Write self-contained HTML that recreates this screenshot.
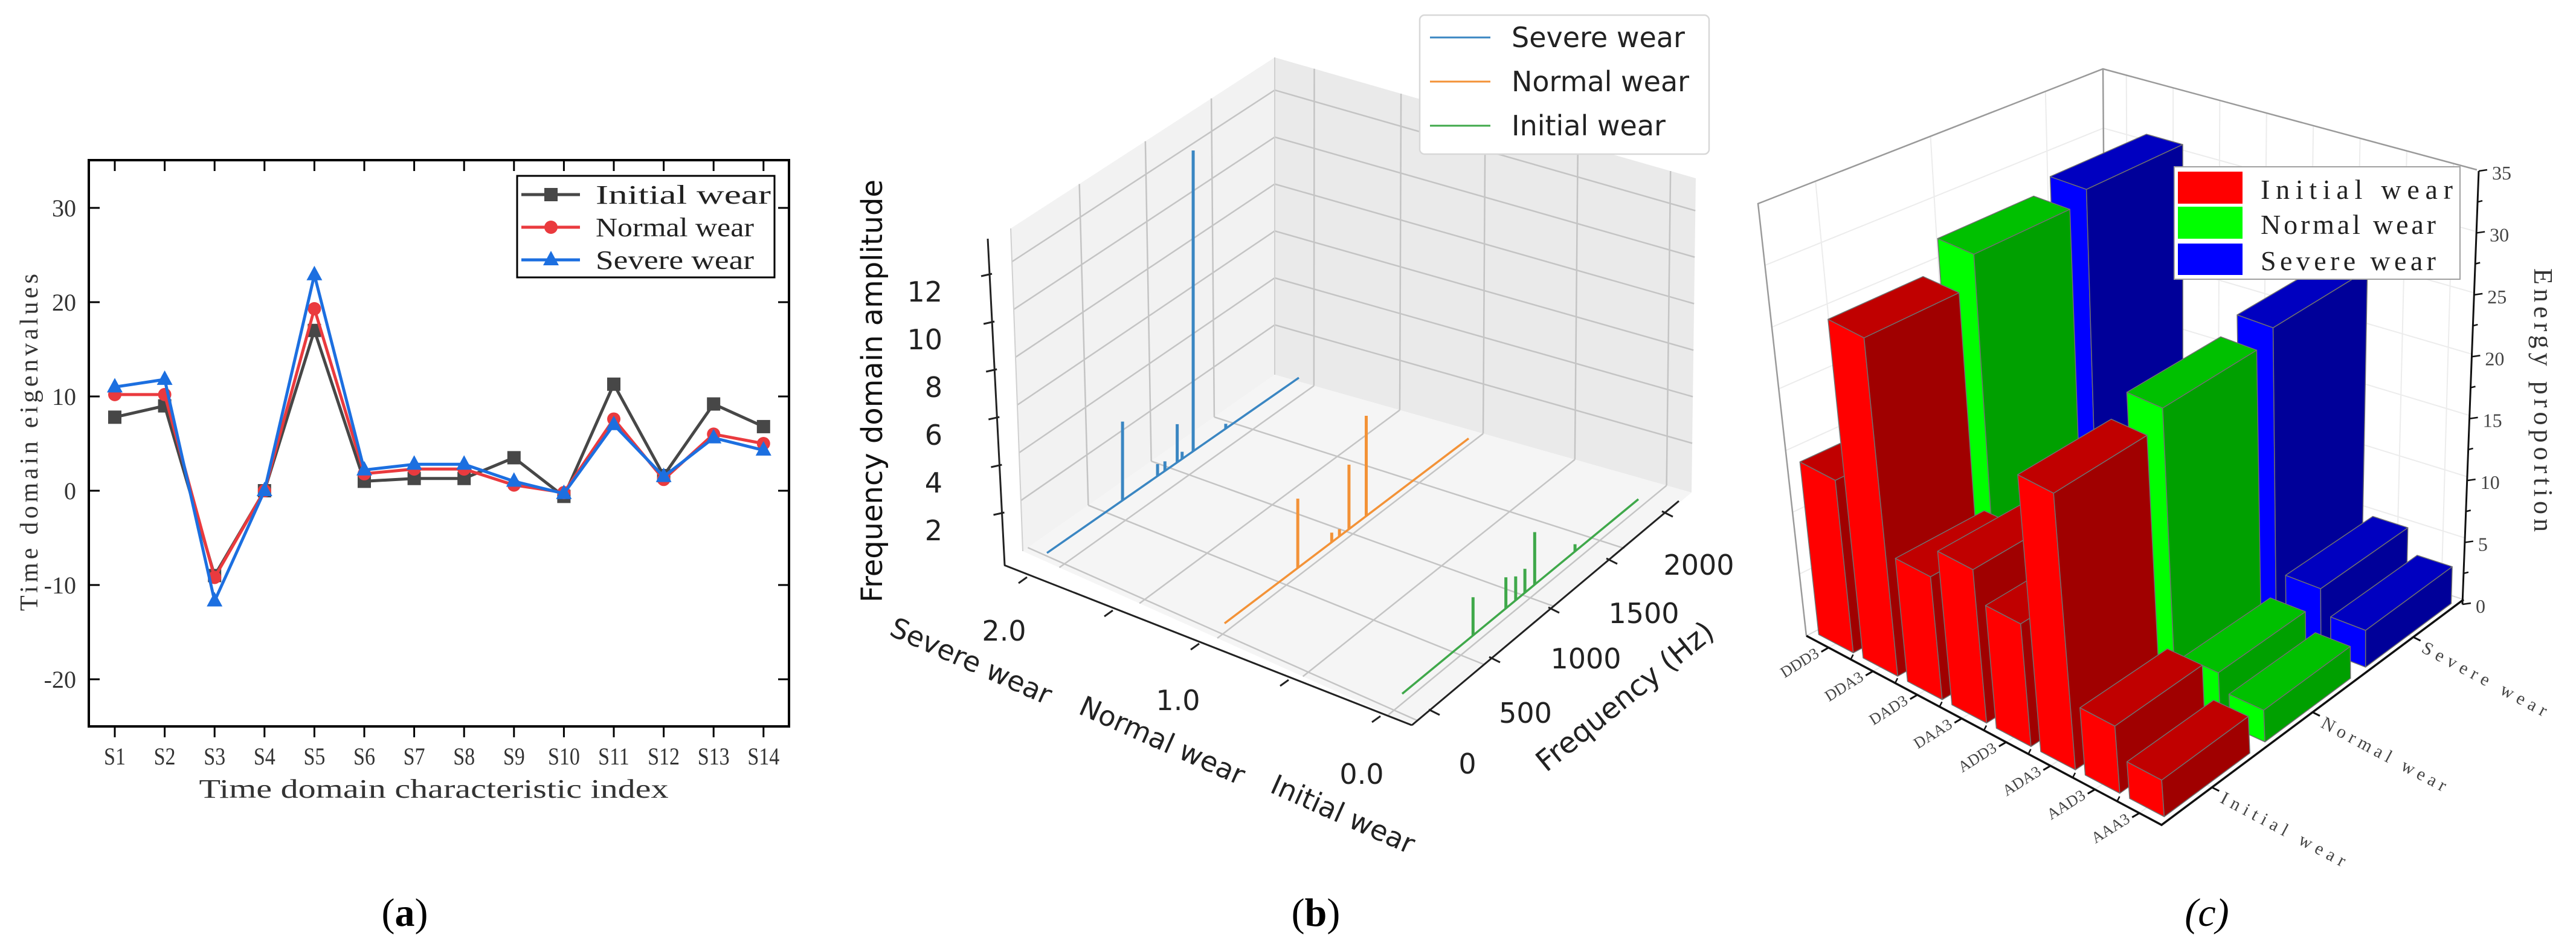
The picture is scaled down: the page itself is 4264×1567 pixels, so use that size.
<!DOCTYPE html>
<html><head><meta charset="utf-8">
<style>
html,body{margin:0;padding:0;background:#fff;}
svg{display:block;}
.serif{font-family:"Liberation Serif","DejaVu Serif",serif;}
.sans{font-family:"DejaVu Sans","Liberation Sans",sans-serif;}
</style></head>
<body>
<svg id="fig" xmlns="http://www.w3.org/2000/svg" width="4264" height="1567" viewBox="0 0 4264 1567">
<rect width="4264" height="1567" fill="#fff"/>
<g id="pa"></g>
<g id="pb"></g>
<g id="pc"></g>
<text x="670" y="1532" text-anchor="middle" class="serif" font-size="66">(<tspan font-weight="bold">a</tspan>)</text>
<text x="2178" y="1532" text-anchor="middle" class="serif" font-size="66">(<tspan font-weight="bold">b</tspan>)</text>
<text x="3653" y="1532" text-anchor="middle" class="serif" font-size="66" font-style="italic">(c)</text>
</svg>
<script>
// ---------- Panel (a) data ----------
const aCategories = ["S1","S2","S3","S4","S5","S6","S7","S8","S9","S10","S11","S12","S13","S14"];
const aInitial = [7.8, 9.0, -9.0, 0.0, 17.0, 1.0, 1.3, 1.3, 3.5, -0.6, 11.3, 1.6, 9.2, 6.8];
const aNormal  = [10.2, 10.2, -9.2, 0.0, 19.3, 1.8, 2.3, 2.3, 0.6, -0.2, 7.6, 1.2, 6.0, 5.0];
const aSevere  = [11.0, 11.8, -11.7, 0.0, 22.9, 2.2, 2.8, 2.8, 1.0, -0.3, 7.0, 1.5, 5.6, 4.3];
const aYTicks = [-20, -10, 0, 10, 20, 30];
// ---------- Panel (b) data ----------
const bCategories = ["Initial wear","Normal wear","Severe wear"];
const bSevereFreq = [615, 900, 960, 1060, 1100, 1190, 1455];
const bSevereAmp  = [3.3, 0.5, 0.4, 1.6, 0.3, 12.6, 0.2];
const bNormalFreq = [615, 900, 965, 1045, 1190];
const bNormalAmp  = [2.9, 0.4, 0.3, 2.7, 4.2];
const bInitialFreq = [615, 900, 985, 1065, 1150, 1500];
const bInitialAmp  = [1.6, 1.3, 1.0, 1.0, 2.2, 0.3];
const bZTicks = [2, 4, 6, 8, 10, 12];
const bFreqTicks = [0, 500, 1000, 1500, 2000];
const bCatTicks = ["2.0","1.0","0.0"];
// ---------- Panel (c) data ----------
const cCategories = ["DDD3","DDA3","DAD3","DAA3","ADD3","ADA3","AAD3","AAA3"];
const cSeries = ["Initial wear","Normal wear","Severe wear"];
const cInitial = [14, 27.5, 10, 12.5, 10, 22.6, 5.5, 3];
const cNormal  = [8, 30, 6, 7, 6, 24, 4, 2.6];
const cSevere  = [8, 31, 6, 7, 6, 25, 5, 3];
const cZTicks = [0, 5, 10, 15, 20, 25, 30, 35];

const NS = "http://www.w3.org/2000/svg";
function mk(parent, tag, attrs, text){
  const e = document.createElementNS(NS, tag);
  for (const k in attrs) e.setAttribute(k, attrs[k]);
  if (text !== undefined) e.textContent = text;
  parent.appendChild(e);
  return e;
}
function pts(arr){ return arr.map(p=>p[0].toFixed(1)+","+p[1].toFixed(1)).join(" "); }

// ================= Panel A =================
(function(){
  const g = document.getElementById('pa');
  const X0=147, X1=1306, Y0=265, Y1=1202;
  const xs = i => 190 + i*82.6;
  const ys = v => 812 - v*15.6;
  let el = mk(g,'rect',{x:X0,y:Y0,width:X1-X0,height:Y1-Y0,fill:'none',stroke:'#000','stroke-width':4});
  
  
  aYTicks.forEach(v=>{
    const y = ys(v);
    let t = mk(g,'line',{x1:X0,y1:y,x2:X0+18,y2:y,stroke:'#000','stroke-width':3});
    
    
    let t2 = mk(g,'line',{x1:X1,y1:y,x2:X1-18,y2:y,stroke:'#000','stroke-width':3});
    
    
    let l = mk(g,'text',{x:126,y:y+14,'text-anchor':'end','font-size':40,fill:'#333',class:'serif'},String(v));
    
    
  });
  aCategories.forEach((c,i)=>{
    const x = xs(i);
    let t = mk(g,'line',{x1:x,y1:Y1,x2:x,y2:Y1+18,stroke:'#000','stroke-width':3});
    
    
    let t2 = mk(g,'line',{x1:x,y1:Y0,x2:x,y2:Y0+18,stroke:'#000','stroke-width':3});
    
    
    let l = mk(g,'text',{x:x,y:1265,'text-anchor':'middle','font-size':40,fill:'#333',class:'serif',transform:`translate(${x},0) scale(0.85,1) translate(${-x},0)`},c);
    
    
  });
  let xt = mk(g,'text',{x:718,y:1320,'text-anchor':'middle','font-size':44,fill:'#333',class:'serif',textLength:777,lengthAdjust:'spacingAndGlyphs'},'Time domain characteristic index');
  
  
  let yt = mk(g,'text',{x:0,y:0,'text-anchor':'middle','font-size':42,fill:'#333',class:'serif',textLength:558,lengthAdjust:'spacing',transform:'translate(62,732) rotate(-90)'},'Time domain eigenvalues');
  
  

  const series = [
    {name:'initial',vals:aInitial,color:'#474747',marker:'square'},
    {name:'normal',vals:aNormal,color:'#ea3a3e',marker:'circle'},
    {name:'severe',vals:aSevere,color:'#1c6fe0',marker:'triangle'}
  ];
  function marker(parent,type,x,y,color){
    let m;
    if(type==='square') m = mk(parent,'rect',{x:x-11,y:y-11,width:22,height:22,fill:color});
    else if(type==='circle') m = mk(parent,'circle',{cx:x,cy:y,r:11,fill:color});
    else m = mk(parent,'polygon',{points:pts([[x,y-15],[x+13,y+9],[x-13,y+9]]),fill:color});
    return m;
  }
  series.forEach(s=>{
    const sg = mk(g,'g',{});
    
    
    const p = s.vals.map((v,i)=>[xs(i),ys(v)]);
    let pl = mk(sg,'polyline',{points:pts(p),fill:'none',stroke:s.color,'stroke-width':5,'stroke-linejoin':'round'});
    
    
    p.forEach(q=>{
      const m = marker(sg,s.marker,q[0],q[1],s.color);
      
      
    });
  });
  // legend
  const lg = mk(g,'g',{});
  
  
  mk(lg,'rect',{x:856,y:291,width:426,height:168,fill:'#fff',stroke:'#000','stroke-width':3});
  const ln = ['Initial wear','Normal wear','Severe wear'];
  [322,376,430].forEach((y,i)=>{
    const e = mk(lg,'g',{});
    
    
    mk(e,'line',{x1:863,y1:y,x2:960,y2:y,stroke:series[i].color,'stroke-width':5});
    marker(e,series[i].marker,912,y,series[i].color);
    mk(e,'text',{x:986,y:y+15,'font-size':44,fill:'#222',class:'serif',textLength:i===0?290:262,lengthAdjust:'spacingAndGlyphs'},ln[i]);
  });
})();

// ================= Panel B =================
(function(){
  const g = document.getElementById('pb');
  // static box geometry (pixel layout)
  const L=[1693,912], B=[2110,620], R=[2800,815], F=[2337,1200];
  const Lt=[1673,378], Bt=[2110,95], Rt=[2807,295];
  const lerp=(a,b,t)=>[a[0]+(b[0]-a[0])*t, a[1]+(b[1]-a[1])*t];
  const floorP=(s,t)=>lerp(lerp(L,B,t), lerp(F,R,t), s);
  const box = mk(g,'g',{});
  
  
  mk(box,'polygon',{points:pts([L,B,Bt,Lt]),fill:'#f2f2f2'});
  mk(box,'polygon',{points:pts([B,R,Rt,Bt]),fill:'#eaeaea'});
  mk(box,'polygon',{points:pts([L,B,R,F]),fill:'#f5f5f5'});
  const gs = {stroke:'#c4c4c4','stroke-width':2.5,fill:'none'};
  const hz = z => 0.009 + z*0.074;
  bZTicks.forEach(z=>{
    const h=hz(z);
    mk(box,'polyline',Object.assign({points:pts([lerp(L,Lt,h),lerp(B,Bt,h),lerp(R,Rt,h)])},gs));
  });
  // wall vertical grids (freq ticks on left wall, category ticks on right wall)
  const fFr=[0.26,0.51,0.76];
  fFr.forEach(t=>{ mk(box,'line',Object.assign({x1:lerp(L,B,t)[0],y1:lerp(L,B,t)[1],x2:lerp(Lt,Bt,t)[0],y2:lerp(Lt,Bt,t)[1]},gs)); });
  const cFr=[0.094,0.30,0.50,0.72,0.94];
  cFr.forEach(s=>{ mk(box,'line',Object.assign({x1:lerp(B,R,s)[0],y1:lerp(B,R,s)[1],x2:lerp(Bt,Rt,s)[0],y2:lerp(Bt,Rt,s)[1]},gs)); });
  // floor grid
  cFr.forEach(s=>{ const a=floorP(s,0), b=floorP(s,1); mk(box,'line',Object.assign({x1:a[0],y1:a[1],x2:b[0],y2:b[1]},gs)); });
  [0.02,0.26,0.51,0.76].forEach(t=>{ const a=floorP(0,t), b=floorP(1,t); mk(box,'line',Object.assign({x1:a[0],y1:a[1],x2:b[0],y2:b[1]},gs)); });
  // back edges
  mk(box,'polyline',{points:pts([Lt,L]),stroke:'#d0d0d0','stroke-width':2,fill:'none'});
  mk(box,'polyline',{points:pts([Bt,B]),stroke:'#d0d0d0','stroke-width':2,fill:'none'});

  // projection for data
  const S0=[2321,1148], E0=[2712,826], S2=[1733,915], E2=[2150,625];
  const FMAX=2050, ZPX=39.5;
  function proj(c,f,a){
    const st=lerp(S0,S2,c/2), en=lerp(E0,E2,c/2);
    const p=lerp(st,en,f/FMAX);
    return [p[0], p[1]-a*ZPX];
  }
  const data=[
    {c:2,freq:bSevereFreq,amp:bSevereAmp,color:'#3a86c2',name:'severe'},
    {c:1,freq:bNormalFreq,amp:bNormalAmp,color:'#f39237',name:'normal'},
    {c:0,freq:bInitialFreq,amp:bInitialAmp,color:'#3fa84a',name:'initial'}
  ];
  data.forEach(d=>{
    const sg=mk(g,'g',{});
    
    
    const a=proj(d.c,0,0), b=proj(d.c,FMAX,0);
    let bl=mk(sg,'line',{x1:a[0],y1:a[1],x2:b[0],y2:b[1],stroke:d.color,'stroke-width':3.5});
    
    
    d.freq.forEach((f,i)=>{
      const p0=proj(d.c,f,0), p1=proj(d.c,f,d.amp[i]);
      let sp=mk(sg,'line',{x1:p0[0],y1:p0[1],x2:p1[0],y2:p1[1],stroke:d.color,'stroke-width':5});
      
      
    });
  });

  // z axis
  const za=mk(g,'g',{});
  
  
  mk(za,'line',{x1:1635,y1:395,x2:1663,y2:935,stroke:'#222','stroke-width':3});
  bZTicks.forEach(z=>{
    const y=927-z*ZPX; const x=1635+(y-395)*28/540;
    mk(za,'line',{x1:x-14,y1:y+4,x2:x+4,y2:y,stroke:'#222','stroke-width':3});
    mk(za,'text',{x:1560,y:y+46,'text-anchor':'end','font-size':46,class:'sans',fill:'#222'},String(z)).setAttribute('transform',`translate(0,0)`);
  });
  let zt=mk(g,'text',{x:0,y:0,'text-anchor':'middle','font-size':48,class:'sans',fill:'#111',textLength:700,lengthAdjust:'spacingAndGlyphs',transform:'translate(1460,647) rotate(-90)'},'Frequency domain amplitude');
  
  

  // category axis
  const ca=mk(g,'g',{});
  
  
  mk(ca,'line',{x1:1662,y1:935,x2:2337,y2:1200,stroke:'#222','stroke-width':3});
  [[1700,955],[1842,1010],[1985,1065],[2133,1125],[2285,1185]].forEach(p=>mk(ca,'line',{x1:p[0],y1:p[1],x2:p[0]-14,y2:p[1]+10,stroke:'#222','stroke-width':3}));
  [[1662,1060],[1950,1175],[2254,1297]].forEach((p,i)=>mk(ca,'text',{x:p[0],y:p[1],'text-anchor':'middle','font-size':46,class:'sans',fill:'#222'},bCatTicks[i]));
  [['Severe wear',1470,1050],['Normal wear',1783,1180],['Initial wear',2100,1310]].forEach(q=>{
    const t=mk(ca,'text',{x:0,y:0,'font-size':46,class:'sans',fill:'#222',transform:`translate(${q[1]},${q[2]}) rotate(24)`},q[0]);
    
    
  });
  // frequency axis
  const fa=mk(g,'g',{});
  
  
  mk(fa,'line',{x1:2337,y1:1200,x2:2779,y2:829,stroke:'#222','stroke-width':3});
  [[2369,1177],[2469,1090],[2567,1008],[2663,927],[2755,849]].forEach((p,i)=>{
    mk(fa,'line',{x1:p[0]-4,y1:p[1]-3,x2:p[0]+14,y2:p[1]+6,stroke:'#222','stroke-width':3});
  });
  [[2429,1280],[2525,1196],[2625,1106],[2721,1031],[2812,951]].forEach((p,i)=>mk(fa,'text',{x:p[0],y:p[1],'text-anchor':'middle','font-size':46,class:'sans',fill:'#222'},String(bFreqTicks[i])));
  let ft=mk(g,'text',{x:0,y:0,'text-anchor':'middle','font-size':48,class:'sans',fill:'#222',transform:'translate(2700,1165) rotate(-39)'},'Frequency (Hz)');
  
  

  // legend
  const lg=mk(g,'g',{});
  
  
  mk(lg,'rect',{x:2350,y:25,width:479,height:230,rx:8,fill:'#fff',stroke:'#d8d8d8','stroke-width':2.5});
  const lc=['#3a86c2','#f39237','#3fa84a'], lt=['Severe wear','Normal wear','Initial wear'];
  [62,135,208].forEach((y,i)=>{
    const e=mk(lg,'g',{});
    
    
    mk(e,'line',{x1:2367,y1:y,x2:2467,y2:y,stroke:lc[i],'stroke-width':3});
    mk(e,'text',{x:2502,y:y+16,'font-size':46,class:'sans',fill:'#222'},lt[i]);
  });
})();

// ================= Panel C =================
(function(){
  const g=document.getElementById('pc');
  const L=[2990,1052], F=[3578,1365], B=[3486,800], R=[4078,992];
  const Lt=[2910,337], Ft=[3528,658], Bt=[3481,114], Rt=[4100,281];
  const ZMAX=35;
  const lerp=(a,b,t)=>[a[0]+(b[0]-a[0])*t, a[1]+(b[1]-a[1])*t];
  function P(u,v,z){
    const fl=lerp(lerp(L,F,u), lerp(B,R,u), v);
    const tp=lerp(lerp(Lt,Ft,u), lerp(Bt,Rt,u), v);
    return lerp(fl,tp,z/ZMAX);
  }
  const box=mk(g,'g',{});
  
  
  const gl={stroke:'#ececec','stroke-width':2,fill:'none'};
  cZTicks.slice(1,-1).forEach(z=>{
    mk(box,'polyline',Object.assign({points:pts([P(0,0,z),P(0,1,z),P(1,1,z)])},gl));
  });
  cCategories.forEach((c,i)=>{ const u=(i+0.5)/8; mk(box,'polyline',Object.assign({points:pts([P(u,0,0),P(u,1,0),P(u,1,ZMAX)])},gl)); });
  cSeries.forEach((s,j)=>{ const v=(j+0.5)/3; mk(box,'polyline',Object.assign({points:pts([P(1,v,0),P(0,v,0),P(0,v,ZMAX)])},gl)); });
  const be={stroke:'#9a9a9a','stroke-width':2.5,fill:'none'};
  mk(box,'polyline',Object.assign({points:pts([L,Lt,Bt,Rt])},be));
  mk(box,'polyline',Object.assign({points:pts([Bt,B])},be));
  mk(box,'polyline',Object.assign({points:pts([L,B,R])},{stroke:'#d8d8d8','stroke-width':2,fill:'none'}));

  const series=[
    {vals:cInitial,bright:'#ff0000',dark:'#a00000',top:'#c00000',name:'initial'},
    {vals:cNormal,bright:'#00ff00',dark:'#00a000',top:'#00c000',name:'normal'},
    {vals:cSevere,bright:'#0000ff',dark:'#000099',top:'#0000c0',name:'severe'}
  ];
  const hu=0.39/8, hv=0.425/3;
  for(let j=2;j>=0;j--){
    const s=series[j];
    s.vals.forEach((val,i)=>{
      const uc=(i+0.5)/8, vc=(j+0.5)/3;
      const u0=uc-hu,u1=uc+hu,v0=vc-hv,v1=vc+hv;
      const bg=mk(g,'g',{stroke:'#707070','stroke-width':1.5,'stroke-linejoin':'round'});
      
      
      mk(bg,'polygon',{points:pts([P(u0,v0,0),P(u1,v0,0),P(u1,v0,val),P(u0,v0,val)]),fill:s.bright});
      mk(bg,'polygon',{points:pts([P(u1,v0,0),P(u1,v1,0),P(u1,v1,val),P(u1,v0,val)]),fill:s.dark});
      mk(bg,'polygon',{points:pts([P(u0,v0,val),P(u1,v0,val),P(u1,v1,val),P(u0,v1,val)]),fill:s.top});
    });
  }
  // front axes
  const ax=mk(g,'g',{});
  
  
  mk(ax,'polyline',{points:pts([L,F,R]),stroke:'#111','stroke-width':3.5,fill:'none'});
  cCategories.forEach((c,i)=>{
    const u=(i+0.5)/8; const p=P(u,0,0);
    mk(ax,'line',{x1:p[0],y1:p[1],x2:p[0]-12,y2:p[1]+7,stroke:'#111','stroke-width':3});
    const q=P(i/8,0,0);
    if(i>0) mk(ax,'line',{x1:q[0],y1:q[1],x2:q[0]+4,y2:q[1]-8,stroke:'#111','stroke-width':2.5});
    const t=mk(ax,'text',{x:0,y:0,'text-anchor':'end','font-size':26,class:'serif',fill:'#444',transform:`translate(${p[0]-14},${p[1]+14}) rotate(-32)`},c);
    
    
  });
  cSeries.forEach((s,j)=>{
    const v=(j+0.5)/3; const p=P(1,v,0);
    mk(ax,'line',{x1:p[0],y1:p[1],x2:p[0]+12,y2:p[1]+6,stroke:'#111','stroke-width':3});
    const t=mk(ax,'text',{x:0,y:0,'font-size':30,class:'serif',fill:'#444',textLength:230,lengthAdjust:'spacing',transform:`translate(${p[0]+12},${p[1]+24}) rotate(28)`},s);
    
    
  });
  // z axis
  const za=mk(g,'g',{});
  
  
  const z0=[4076,1000], z1=[4103,283];
  mk(za,'line',{x1:z0[0],y1:z0[1],x2:z1[0],y2:z1[1],stroke:'#111','stroke-width':3});
  for(let z=0;z<=ZMAX;z+=2.5){
    const p=lerp(z0,z1,z/ZMAX); const major=(z%5===0);
    mk(za,'line',{x1:p[0],y1:p[1],x2:p[0]+(major?14:8),y2:p[1]-2,stroke:'#111','stroke-width':2.5});
  }
  cZTicks.forEach(z=>{
    const p=lerp(z0,z1,z/ZMAX);
    mk(za,'text',{x:p[0]+22,y:p[1]+14,'font-size':32,class:'serif',fill:'#444'},String(z));
  });
  const zt=mk(g,'text',{x:0,y:0,'text-anchor':'middle','font-size':44,class:'serif',fill:'#333',textLength:436,lengthAdjust:'spacing',transform:'translate(4195,662) rotate(90)'},'Energy proportion');
  
  
  // legend
  const lg=mk(g,'g',{});
  
  
  mk(lg,'rect',{x:3599,y:276,width:473,height:186,fill:'#fff',stroke:'#a0a0a0','stroke-width':2});
  const cols=['#ff0000','#00ff00','#0000ff'];
  [[284,337],[342,395],[403,455]].forEach((r,i)=>{
    const e=mk(lg,'g',{});
    
    
    mk(e,'rect',{x:3605,y:r[0],width:107,height:r[1]-r[0],fill:cols[i]});
    mk(e,'text',{x:3742,y:r[1]-8,'font-size':46,class:'serif',fill:'#222',textLength:i===0?318:290,lengthAdjust:'spacing'},cSeries[i]);
  });
})();
</script>
</body></html>
